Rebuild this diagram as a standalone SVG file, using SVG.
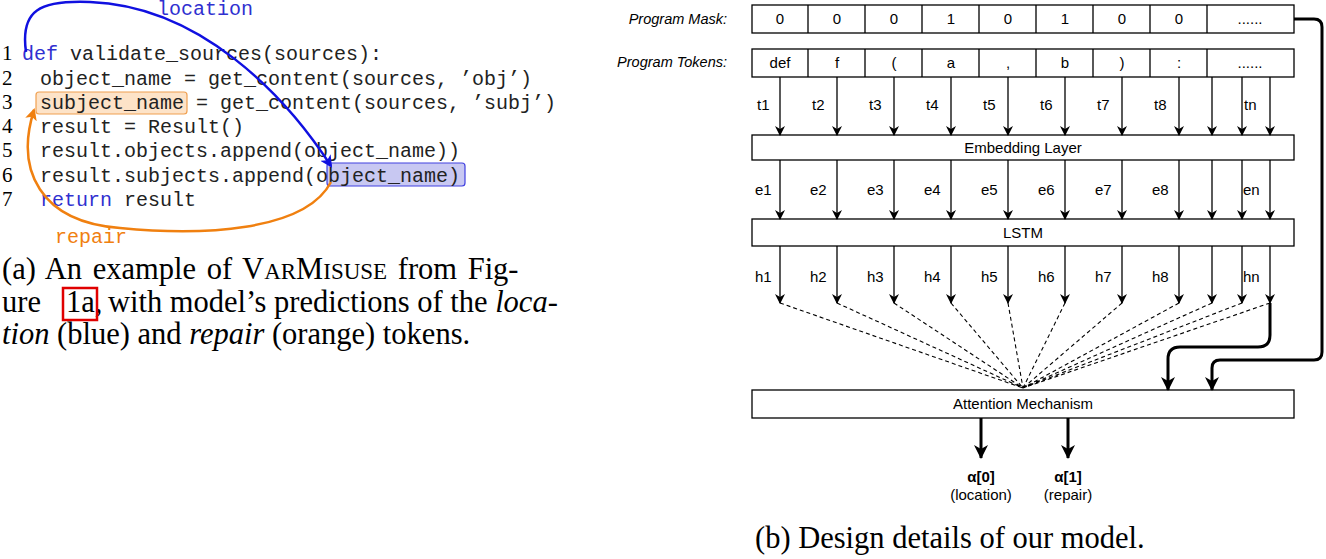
<svg xmlns="http://www.w3.org/2000/svg" width="1326" height="559" viewBox="0 0 1326 559">
<style>
.code{font-family:"Liberation Mono",monospace;font-size:20px;fill:#222}
.ln{font-family:"Liberation Serif",serif;font-size:21px;fill:#000}
.cap{font-family:"Liberation Serif",serif;font-size:30.5px;fill:#000}
.s{font-family:"Liberation Sans",Arial,sans-serif;font-size:15px;fill:#000}
.lbl{font-family:"Liberation Sans",Arial,sans-serif;font-size:14.5px;fill:#000;font-style:italic}
.box{fill:#fff;stroke:#000;stroke-width:1.3}
.a{stroke:#000;stroke-width:1.3;fill:none;marker-end:url(#ah)}
.d{stroke:#000;stroke-width:1.1;fill:none;stroke-dasharray:4 3}
.t{stroke:#000;stroke-width:3;fill:none;marker-end:url(#ahb)}
</style>
<defs>
<marker id="ah" markerWidth="10" markerHeight="10" refX="9" refY="5" orient="auto" markerUnits="userSpaceOnUse"><path d="M0,0 L10,5 L0,10 L3,5 Z" fill="#000"/></marker>
<marker id="ahb" markerWidth="14" markerHeight="14" refX="13" refY="7" orient="auto" markerUnits="userSpaceOnUse"><path d="M0,0 L14,7 L0,14 L4,7 Z" fill="#000"/></marker>
<marker id="ahblue" markerWidth="12" markerHeight="12" refX="10" refY="6" orient="auto" markerUnits="userSpaceOnUse"><path d="M0,0 L12,6 L0,12 L3,6 Z" fill="#1010e0"/></marker>
<marker id="ahor" markerWidth="12" markerHeight="12" refX="10" refY="6" orient="auto" markerUnits="userSpaceOnUse"><path d="M0,0 L12,6 L0,12 L3,6 Z" fill="#f08010"/></marker>
</defs>
<rect width="1326" height="559" fill="#fff"/>

<g id="code">
<rect x="36" y="92" width="151" height="22" rx="3" fill="#fde3c8" stroke="#f0a050" stroke-width="1.2"/>
<rect x="327" y="163" width="138" height="23" rx="3" fill="#c8c8f2" stroke="#4040e0" stroke-width="1.2"/>
<text class="ln" x="2" y="60">1</text><text class="ln" x="2" y="85">2</text><text class="ln" x="2" y="109">3</text><text class="ln" x="2" y="133">4</text><text class="ln" x="2" y="157">5</text><text class="ln" x="2" y="182">6</text><text class="ln" x="2" y="206">7</text>
<text class="code" x="22" y="60"><tspan style="fill:#3030d0">def</tspan> validate_sources(sources):</text>
<text class="code" x="40" y="85">object_name = get_content(sources, ’obj’)</text>
<text class="code" x="40" y="109">subject_name = get_content(sources, ’subj’)</text>
<text class="code" x="40" y="133">result = Result()</text>
<text class="code" x="40" y="157">result.objects.append(object_name))</text>
<text class="code" x="40" y="182">result.subjects.append(object_name)</text>
<text class="code" x="40" y="206"><tspan style="fill:#3030d0">return</tspan> result</text>
<text class="code" x="157" y="15" style="fill:#3030d0">location</text>
<text class="code" x="55" y="243" style="fill:#f08010">repair</text>
<path d="M26,52 C20,10 40,0 90,2 C200,6 285,95 331,166" fill="none" stroke="#1010e0" stroke-width="2.5" marker-end="url(#ahblue)"/>
<path d="M331,182 C305,232 200,236 120,228 C40,222 15,170 34,110" fill="none" stroke="#f08010" stroke-width="2.5" marker-end="url(#ahor)"/>
</g>

<g id="caption-a">
<text class="cap" x="2" y="279" word-spacing="3">(a) An example of V<tspan font-size="23">AR</tspan>M<tspan font-size="23">ISUSE</tspan> from Fig-</text>
<text class="cap" x="2" y="312">ure</text>
<text class="cap" x="66" y="312">1a,</text>
<text class="cap" x="108" y="312">with model’s predictions of the <tspan font-style="italic">loca-</tspan></text>
<rect x="63" y="288" width="34" height="32" fill="none" stroke="#e00000" stroke-width="2.5"/>
<text class="cap" x="2" y="344"><tspan font-style="italic">tion</tspan> (blue) and <tspan font-style="italic">repair</tspan> (orange) tokens.</text>
</g>

<g id="mask">
<text class="lbl" x="727" y="24" text-anchor="end">Program Mask:</text>
<rect class="box" x="752" y="5" width="542" height="28"/>
<path d="M808,5V33M865,5V33M922,5V33M979,5V33M1036,5V33M1093,5V33M1150,5V33M1207,5V33" stroke="#000" stroke-width="1.3"/>
<g class="s" text-anchor="middle">
<text x="780" y="24">0</text><text x="837" y="24">0</text><text x="894" y="24">0</text><text x="951" y="24">1</text><text x="1008" y="24">0</text><text x="1065" y="24">1</text><text x="1122" y="24">0</text><text x="1179" y="24">0</text><text x="1250" y="24">......</text>
</g>
</g>

<g id="tokens">
<text class="lbl" x="727" y="67" text-anchor="end">Program Tokens:</text>
<rect class="box" x="752" y="49" width="542" height="28"/>
<path d="M808,49V77M865,49V77M922,49V77M979,49V77M1036,49V77M1093,49V77M1150,49V77M1207,49V77" stroke="#000" stroke-width="1.3"/>
<g class="s" text-anchor="middle">
<text x="780" y="68">def</text><text x="837" y="68">f</text><text x="894" y="68">(</text><text x="951" y="68">a</text><text x="1008" y="68">,</text><text x="1065" y="68">b</text><text x="1122" y="68">)</text><text x="1179" y="68">:</text><text x="1250" y="68">......</text>
</g>
</g>

<g id="embedding"><rect class="box" x="752" y="135" width="542" height="25"/><text class="s" x="1023" y="153" text-anchor="middle">Embedding Layer</text></g>
<g id="lstm"><rect class="box" x="752" y="219" width="542" height="27"/><text class="s" x="1023" y="238" text-anchor="middle">LSTM</text></g>
<g id="attention"><rect class="box" x="752" y="390" width="542" height="28"/><text class="s" x="1023" y="409" text-anchor="middle">Attention Mechanism</text></g>
<g id="outputs" class="s" text-anchor="middle">
<text x="981" y="482" font-weight="bold">α[0]</text><text x="981" y="500">(location)</text>
<text x="1068" y="482" font-weight="bold">α[1]</text><text x="1068" y="500">(repair)</text>
</g>

<g id="labels" class="s">
<text x="757" y="110">t1</text><text x="812" y="110">t2</text><text x="869" y="110">t3</text><text x="926" y="110">t4</text><text x="983" y="110">t5</text><text x="1040" y="110">t6</text><text x="1097" y="110">t7</text><text x="1154" y="110">t8</text><text x="1244" y="110">tn</text>
<text x="755" y="195">e1</text><text x="810" y="195">e2</text><text x="867" y="195">e3</text><text x="924" y="195">e4</text><text x="981" y="195">e5</text><text x="1038" y="195">e6</text><text x="1095" y="195">e7</text><text x="1152" y="195">e8</text><text x="1243" y="195">en</text>
<text x="755" y="282">h1</text><text x="810" y="282">h2</text><text x="867" y="282">h3</text><text x="924" y="282">h4</text><text x="981" y="282">h5</text><text x="1038" y="282">h6</text><text x="1095" y="282">h7</text><text x="1152" y="282">h8</text><text x="1243" y="282">hn</text>
</g>

<g id="connectors">
<g class="a">
<path d="M780,77V135"/><path d="M837,77V135"/><path d="M894,77V135"/><path d="M951,77V135"/><path d="M1008,77V135"/><path d="M1065,77V135"/><path d="M1122,77V135"/><path d="M1179,77V135"/><path d="M1212,77V135"/><path d="M1242,77V135"/><path d="M1270,77V135"/>
<path d="M780,160V219"/><path d="M837,160V219"/><path d="M894,160V219"/><path d="M951,160V219"/><path d="M1008,160V219"/><path d="M1065,160V219"/><path d="M1122,160V219"/><path d="M1179,160V219"/><path d="M1212,160V219"/><path d="M1242,160V219"/><path d="M1270,160V219"/>
<path d="M780,246V303"/><path d="M837,246V303"/><path d="M894,246V303"/><path d="M951,246V303"/><path d="M1008,246V303"/><path d="M1065,246V303"/><path d="M1122,246V303"/><path d="M1179,246V303"/><path d="M1212,246V303"/><path d="M1242,246V303"/><path d="M1270,246V303"/>
</g>
<path class="d" d="M780,303L1023,388M837,303L1023,388M894,303L1023,388M951,303L1023,388M1008,303L1023,388M1065,303L1023,388M1122,303L1023,388M1179,303L1023,388M1212,303L1023,388M1242,303L1023,388M1270,303L1023,388"/>
<path class="t" d="M1270,303V335Q1270,347 1258,347H1180Q1168,347 1168,359V390"/>
<path class="t" d="M1294,19H1314Q1322,19 1322,27V352Q1322,360 1314,360H1220Q1212,360 1212,368V390"/>
<path class="t" d="M981,418V458"/>
<path class="t" d="M1068,418V458"/>
</g>

<text class="cap" x="755" y="548">(b) Design details of our model.</text>
</svg>
